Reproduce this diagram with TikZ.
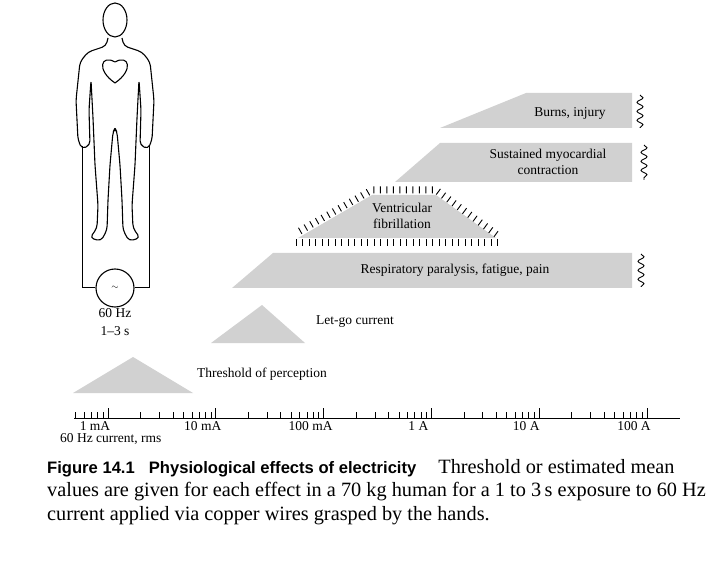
\documentclass[tikz,border=0pt]{standalone}
\usepackage{fontspec}
\setmainfont{Liberation Serif}
\newfontfamily\capsans{Liberation Sans}
\usetikzlibrary{decorations.pathmorphing,decorations.pathreplacing}
\begin{document}
\begin{tikzpicture}[x=1pt,y=-1pt,
  region/.style={fill=black!18,draw=none},
  lab/.style={font=\fontsize{13.5}{15.5}\selectfont,inner sep=0pt,align=center},
  squig/.style={draw,line width=0.9pt,decorate,decoration={snake,amplitude=3pt,segment length=9pt}},
  hatch/.style={draw,line width=0.9pt,decorate,decoration={ticks,segment length=6.5pt,amplitude=3.5pt}},
  body/.style={draw,line width=1.1pt,line join=round},
  captxt/.style={inner sep=0pt,anchor=west,font=\fontsize{20.3}{24}\selectfont}]
\useasboundingbox (0,0) rectangle (728,561);
% human
\draw[body] (115,20) ellipse (12 and 17);
\draw[body,rounded corners=4pt] (108,38) -- (106,46) -- (88,52) -- (80,62) -- (76,100) -- (78,140) -- (82,149) -- (90,145) -- (89,110) -- (91,80) -- (93,118) -- (95,165) -- (98,205) -- (97,228) -- (90,238) -- (101,241) -- (107,230) -- (108,200) -- (110,165) -- (113,132) -- (115,128)
  -- (117,132) -- (120,165) -- (122,200) -- (123,230) -- (129,241) -- (140,238) -- (133,228) -- (132,205) -- (135,165) -- (137,118) -- (139,80) -- (141,110) -- (140,145) -- (148,149) -- (152,140) -- (154,100) -- (150,62) -- (142,52) -- (124,46) -- (122,38);
\draw[body] (115,83) .. controls (96,70) and (101,54) .. (115,62) .. controls (129,54) and (134,70) .. (115,83);
\node[circle,draw,line width=1.1pt,minimum size=38pt,inner sep=0pt] (src) at (115,288) {\small$\sim$};
\coordinate (lh) at (82,146);
\coordinate (rh) at (149,146);
\draw[line width=1pt] (lh) |- (src.west);
\draw[line width=1pt] (rh) |- (src.east);
\node[lab] (hz) at (115,313) {60 Hz};
\node[lab] (dur) at (115,331) {1--3 s};
% regions
\fill[region] (73,393) -- (133,357) -- (193,393) -- cycle;
\node[lab,anchor=west] (tp) at (197,374) {Threshold of perception};
\fill[region] (211,343) -- (262,305) -- (305,343) -- cycle;
\node[lab,anchor=west] (lg) at (316,322) {Let-go current};
\fill[region] (232,288) -- (273,253) -- (632,253) -- (632,288) -- cycle;
\node[lab] (rp) at (455,270) {Respiratory paralysis, fatigue, pain};
\draw[squig] (641,254) -- (641,287);
\fill[region] (298,238) -- (372,195) -- (436,195) -- (496,238) -- cycle;
\draw[hatch] (296,243) -- (498,243);
\draw[hatch] (496,234) -- (436,190) -- (372,190) -- (298,232);
\node[lab] (vf) at (402,216) {Ventricular\\fibrillation};
\fill[region] (395,182) -- (440,143) -- (632,143) -- (632,182) -- cycle;
\node[lab] (sm) at (548,162) {Sustained myocardial\\contraction};
\draw[squig] (644,145) -- (644,180);
\fill[region] (440,128) -- (526,93) -- (632,93) -- (632,128) -- cycle;
\node[lab] (bi) at (570,113) {Burns, injury};
\draw[squig] (640,95) -- (640,128);
% axis
\draw[line width=0.9pt] (74,418) -- (680,418);
\foreach \d in {0,...,5}{
  \pgfmathsetmacro{\xm}{108+107.8*\d}
  \draw[line width=0.9pt] (\xm,418) -- (\xm,408);
  \foreach \k in {2,...,9}{
    \pgfmathsetmacro{\xk}{\xm-107.8+107.8*log10(\k)}
    \pgfmathparse{\xk>72?1:0}
    \ifnum\pgfmathresult=1 \draw[line width=0.7pt] (\xk,418) -- (\xk,412);\fi
  }
}
\foreach \lbl [count=\i from 0] in {1 mA,10 mA,100 mA,1 A,10 A,100 A}
  \node[lab,anchor=north] (t\i) at (108+107.8*\i-13,421) {\lbl};
\node[lab,anchor=west] (ax) at (60,439) {60 Hz current, rms};
% caption
\node[captxt] (c1) at (47,468) {{\capsans\bfseries\fontsize{16.6}{18}\selectfont Figure 14.1\hspace{14pt}Physiological effects of electricity}\hspace{22pt}Threshold or estimated mean};
\node[captxt] (c2) at (47,492) {values are given for each effect in a 70 kg human for a 1 to 3\,s exposure to 60 Hz};
\node[captxt] (c3) at (47,516) {current applied via copper wires grasped by the hands.};
\end{tikzpicture}
\end{document}
